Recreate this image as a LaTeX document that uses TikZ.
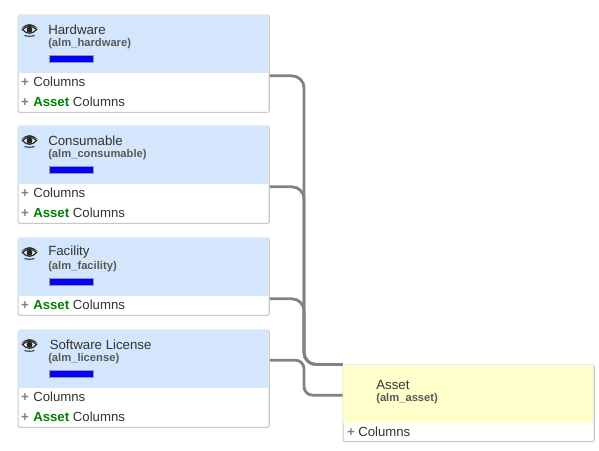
\documentclass[tikz,border=0pt]{standalone}
\usepackage{fontspec}
\setmainfont{Liberation Sans}
\usepackage{tikz}
\usetikzlibrary{arrows.meta, positioning}
\definecolor{headblue}{RGB}{212,230,252}
\definecolor{headyellow}{RGB}{255,255,204}
\definecolor{framegray}{RGB}{200,200,200}
\definecolor{linkgray}{RGB}{130,130,130}
\definecolor{assetgreen}{RGB}{0,128,0}
\definecolor{textdark}{RGB}{51,51,51}
\tikzset{
  tframe/.style={draw=framegray, fill=white, line width=0.8pt, rounded corners=1.5pt, minimum width=188.4pt,
    inner sep=0pt, anchor=north west},
  bluehead/.style={fill=headblue, minimum width=187pt, minimum height=43.6pt, inner sep=0pt, anchor=north west},
  yellowhead/.style={bluehead, fill=headyellow},
  ttitle/.style={font=\fontsize{9.95}{11}\selectfont, text=textdark, anchor=west, inner sep=0pt},
  tsub/.style={font=\fontsize{8.4}{10}\selectfont\bfseries, text=black!65, anchor=west, inner sep=0pt},
  trow/.style={font=\fontsize{9.9}{12}\selectfont, text=textdark, anchor=west, inner sep=0pt},
  tplus/.style={font=\fontsize{10}{12}\selectfont\bfseries, text=black!50, inner sep=0pt},
  bar/.style={draw=black!40, fill=blue, line width=0.6pt, minimum width=33pt, minimum height=5.2pt, inner sep=0pt, anchor=west},
  link/.style={draw=linkgray, line width=2.1pt, rounded corners=9pt},
  eye/.pic={
    \fill[black!80] (-8,-1) .. controls (-3,-7) and (3,-7) .. (8,-1) .. controls (3,-4.5) and (-3,-4.5) .. cycle;
    \draw[black!80, line width=1pt, fill=white] (-7,0) .. controls (-3,-4) and (3,-4) .. (7,0) .. controls (3,5) and (-3,5) .. cycle;
    \fill[black!85] (0,0.2) circle[radius=3];
    \draw[black!80, line width=0.8pt] (-5,6) .. controls (-2,7) and (2,7) .. (5,6);
  },
}
\newcommand{\assetword}{\textcolor{assetgreen}{\textbf{Asset}}}

\begin{document}
\begin{tikzpicture}[x=0.75pt, y=-0.75pt]
  \useasboundingbox (0,0) rectangle (599,450);
  % hardware
  \node[tframe, minimum height=73pt] (hw) at (17.5,14.5) {};
  \node[bluehead] (hwhead) at (18,15) {};
  \pic at (29.5,29.5) {eye};
  \node[ttitle] (hwtitle) at (48,29.5) {Hardware};
  \node[tsub] (hwsub) at (48,43.5) {(alm\_hardware)};
  \node[bar] (hwbar) at (48.5,58.5) {};
  \node[tplus] (hwp1) at (25,82.5) {+};
  \node[trow] (hwcols) at (33,82) {Columns};
  \node[tplus] (hwp2) at (25,102.5) {+};
  \node[trow] (hwasset) at (33,102) {\assetword{} Columns};
  % consumable
  \node[tframe, minimum height=73pt] (con) at (17.5,125.5) {};
  \node[bluehead] (conhead) at (18,126) {};
  \pic at (29.5,140.5) {eye};
  \node[ttitle] (contitle) at (48,140.5) {Consumable};
  \node[tsub] (consub) at (48,155) {(alm\_consumable)};
  \node[bar] (conbar) at (48.5,169.5) {};
  \node[tplus] (conp1) at (25,193.5) {+};
  \node[trow] (concols) at (33,193) {Columns};
  \node[tplus] (conp2) at (25,213.5) {+};
  \node[trow] (conasset) at (33,213) {\assetword{} Columns};
  % facility
  \node[tframe, minimum height=58pt] (fac) at (17.5,237.5) {};
  \node[bluehead] (fachead) at (18,238) {};
  \pic at (29.5,252.5) {eye};
  \node[ttitle] (factitle) at (48,252.5) {Facility};
  \node[tsub] (facsub) at (48,267) {(alm\_facility)};
  \node[bar] (facbar) at (48.5,282) {};
  \node[tplus] (facp1) at (25,305.5) {+};
  \node[trow] (facasset) at (33,305) {\assetword{} Columns};
  % license
  \node[tframe, minimum height=73pt] (lic) at (17.5,329.5) {};
  \node[bluehead] (lichead) at (18,330) {};
  \pic at (29.5,344.5) {eye};
  \node[ttitle] (lictitle) at (49.5,344.5) {Software License};
  \node[tsub] (licsub) at (48,358.5) {(alm\_license)};
  \node[bar] (licbar) at (48.5,373.5) {};
  \node[tplus] (licp1) at (25,397.5) {+};
  \node[trow] (liccols) at (33,397) {Columns};
  \node[tplus] (licp2) at (25,417.5) {+};
  \node[trow] (licasset) at (33,417) {\assetword{} Columns};
  % asset
  \node[tframe, minimum height=57.5pt] (asset) at (342.5,364.5) {};
  \node[yellowhead] (assethead) at (343,365) {};
  \node[ttitle] (assettitle) at (376,384.5) {Asset};
  \node[tsub] (assetsub) at (376,399) {(alm\_asset)};
  \node[tplus] (assetp1) at (351,432.5) {+};
  \node[trow] (assetcols) at (358,432) {Columns};
  % links
  \coordinate (bus) at (304,340);
  \coordinate (buslic) at (304,377.5);
  \draw[link] ([yshift=-46pt]hw.north east) -| (bus) |- (asset.north west);
  \draw[link] ([yshift=-46pt]con.north east) -| (bus) |- (asset.north west);
  \draw[link] ([yshift=-46pt]fac.north east) -| (bus) |- (asset.north west);
  \draw[link, rounded corners=6.4pt] ([yshift=-23pt]lic.north east) -| (buslic) |- ([yshift=-23pt]asset.north west);
\end{tikzpicture}
\end{document}
